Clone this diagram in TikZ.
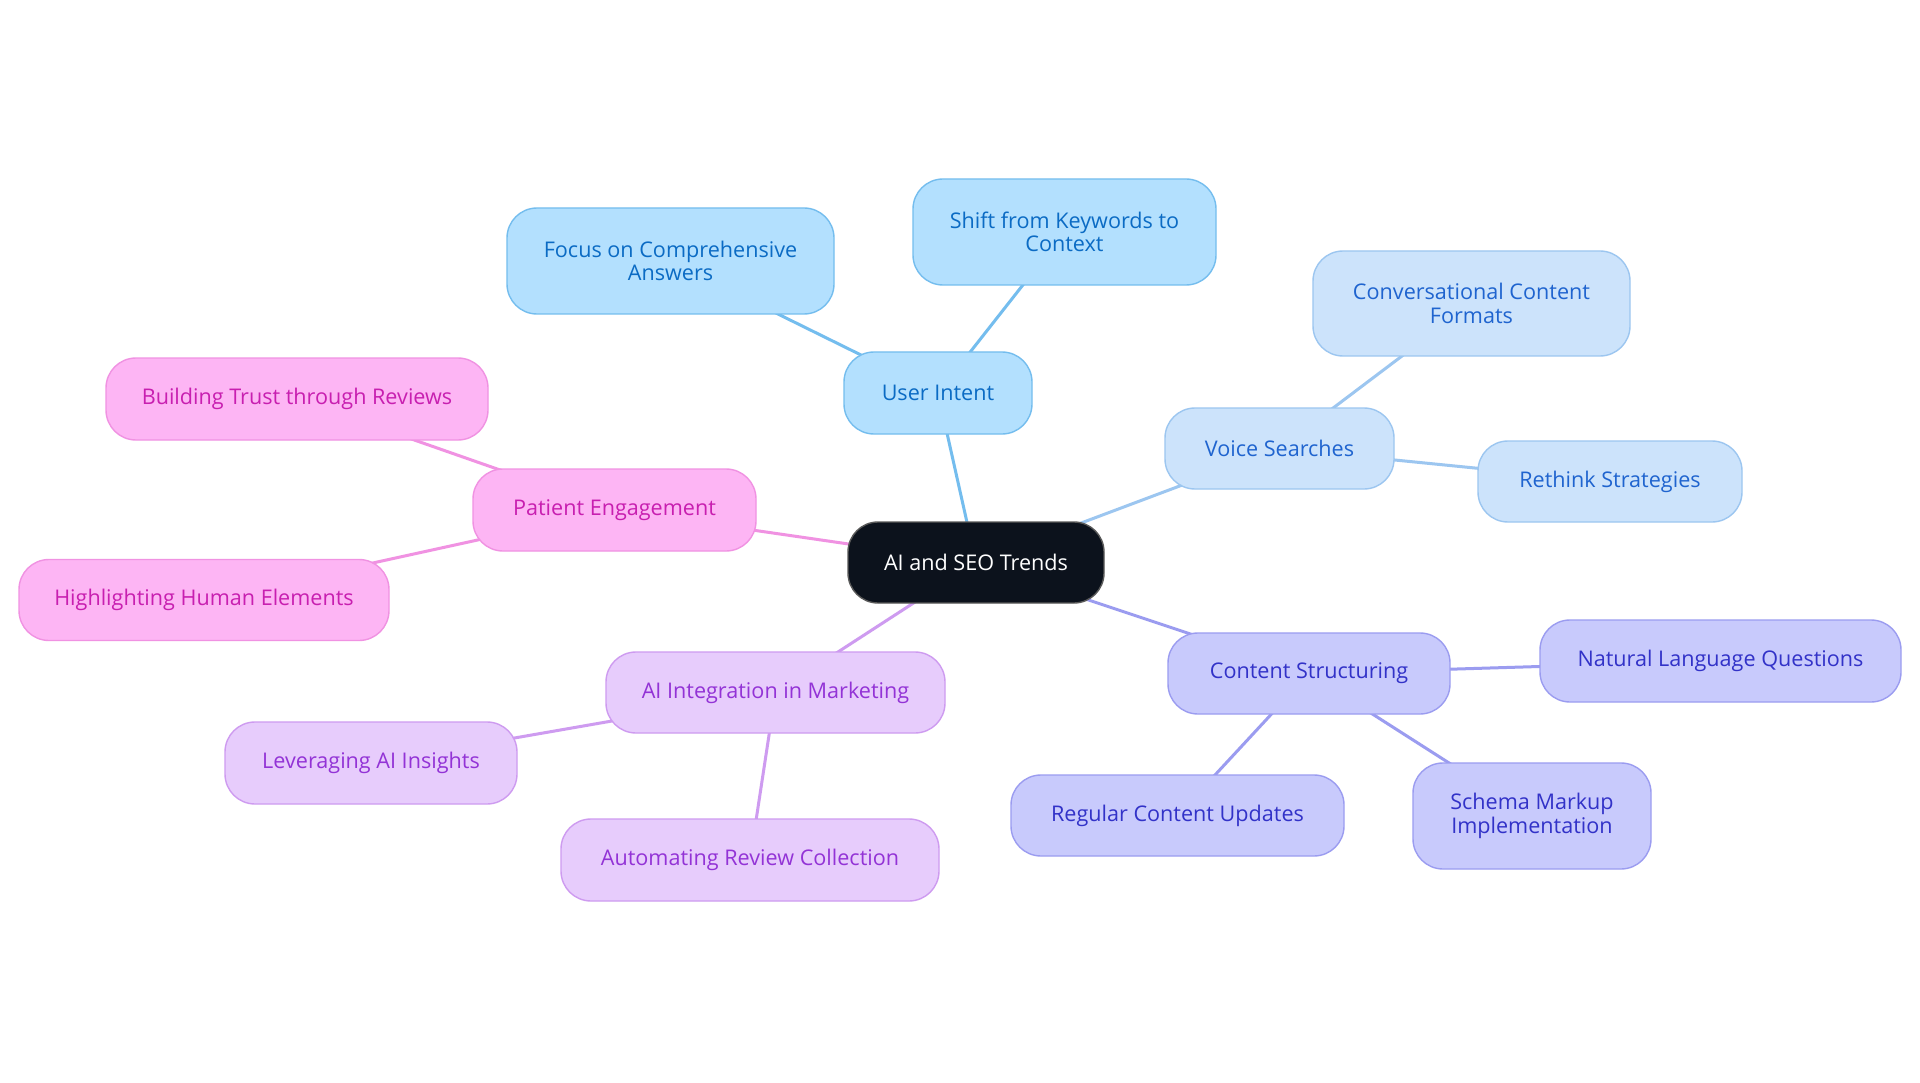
\documentclass[tikz,border=0pt]{standalone}
\usepackage{fontspec}
\setmainfont{Open Sans}
\usetikzlibrary{backgrounds}
\definecolor{cfill}{HTML}{0C121C}
\definecolor{bfill}{HTML}{B3E0FE}\definecolor{bdraw}{HTML}{74BDEE}\definecolor{btext}{HTML}{0B6BC4}
\definecolor{vfill}{HTML}{CCE3FB}\definecolor{vdraw}{HTML}{9CC6F0}\definecolor{vtext}{HTML}{1F64CF}
\definecolor{sfill}{HTML}{C8CAFC}\definecolor{sdraw}{HTML}{9B9CF0}\definecolor{stext}{HTML}{3232C8}
\definecolor{afill}{HTML}{E7CCFC}\definecolor{adraw}{HTML}{CE9BF0}\definecolor{atext}{HTML}{9333D6}
\definecolor{pfill}{HTML}{FDB5F4}\definecolor{pdraw}{HTML}{F092E2}\definecolor{ptext}{HTML}{C81FB0}
\begin{document}
\begin{tikzpicture}[x=1pt,y=-1pt,
  box/.style={rectangle,rounded corners=30pt,line width=1.4pt,inner sep=0pt,align=center,
    font=\fontsize{21.6}{23.5}\selectfont},
  rootbox/.style={box,fill=cfill,draw=black!65,text=white},
  bluebox/.style={box,fill=bfill,draw=bdraw,text=btext},
  voicebox/.style={box,fill=vfill,draw=vdraw,text=vtext},
  structbox/.style={box,fill=sfill,draw=sdraw,text=stext},
  aibox/.style={box,fill=afill,draw=adraw,text=atext},
  patbox/.style={box,fill=pfill,draw=pdraw,text=ptext},
  link/.style={line width=3pt}
]
\useasboundingbox (0,0) rectangle (1920,1083);

\node[rootbox,minimum width=256pt,minimum height=81pt] (root) at (976,562.5) {AI and SEO Trends};

\node[bluebox,minimum width=188pt,minimum height=82pt] (ui) at (938,393) {User Intent};
\node[bluebox,minimum width=327pt,minimum height=106pt] (focus) at (670.5,261) {Focus on Comprehensive\\Answers};
\node[bluebox,minimum width=303pt,minimum height=106pt] (shift) at (1064.5,232) {Shift from Keywords to\\Context};

\node[voicebox,minimum width=229pt,minimum height=81pt] (voice) at (1279.5,448.5) {Voice Searches};
\node[voicebox,minimum width=317pt,minimum height=105pt] (conv) at (1471.5,303.5) {Conversational Content\\Formats};
\node[voicebox,minimum width=264pt,minimum height=81pt] (rethink) at (1610,481.5) {Rethink Strategies};

\node[structbox,minimum width=282pt,minimum height=81pt] (cs) at (1309,673.5) {Content Structuring};
\node[structbox,minimum width=361pt,minimum height=82pt] (nlq) at (1720.5,661) {Natural Language Questions};
\node[structbox,minimum width=333pt,minimum height=81pt] (rcu) at (1177.5,815.5) {Regular Content Updates};
\node[structbox,minimum width=238pt,minimum height=106pt] (smi) at (1532,816) {Schema Markup\\Implementation};

\node[aibox,minimum width=339pt,minimum height=81pt] (aim) at (775.5,692.5) {AI Integration in Marketing};
\node[aibox,minimum width=292pt,minimum height=82pt] (lai) at (371,763) {Leveraging AI Insights};
\node[aibox,minimum width=378pt,minimum height=82pt] (arc) at (750,860) {Automating Review Collection};

\node[patbox,minimum width=283pt,minimum height=82pt] (pe) at (614.5,510) {Patient Engagement};
\node[patbox,minimum width=382pt,minimum height=82pt] (btr) at (297,399) {Building Trust through Reviews};
\node[patbox,minimum width=370pt,minimum height=81pt] (hhe) at (204,600) {Highlighting Human Elements};

\begin{scope}[on background layer]
\fill[white] (0,0) rectangle (1920,1083);
\draw[link,bdraw] (root.center) -- (ui.center);
\draw[link,bdraw] (ui.center) -- (focus.center);
\draw[link,bdraw] (ui.center) -- (shift.center);
\draw[link,vdraw] (root.center) -- (voice.center);
\draw[link,vdraw] (voice.center) -- (conv.center);
\draw[link,vdraw] (voice.center) -- (rethink.center);
\draw[link,sdraw] (root.center) -- (cs.center);
\draw[link,sdraw] (cs.center) -- (nlq.center);
\draw[link,sdraw] (cs.center) -- (rcu.center);
\draw[link,sdraw] (cs.center) -- (smi.center);
\draw[link,adraw] (root.center) -- (aim.center);
\draw[link,adraw] (aim.center) -- (lai.center);
\draw[link,adraw] (aim.center) -- (arc.center);
\draw[link,pdraw] (root.center) -- (pe.center);
\draw[link,pdraw] (pe.center) -- (btr.center);
\draw[link,pdraw] (pe.center) -- (hhe.center);
\end{scope}
\end{tikzpicture}
\end{document}
